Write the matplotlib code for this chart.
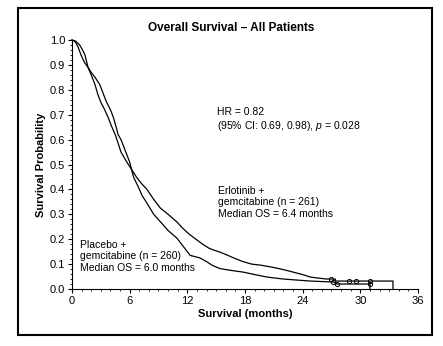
import matplotlib.pyplot as plt
from matplotlib.patches import Rectangle
from matplotlib.ticker import MultipleLocator

plt.rcParams['font.family'] = 'Liberation Sans'
plt.rcParams['mathtext.fontset'] = 'custom'
plt.rcParams['mathtext.rm'] = 'Liberation Sans'
plt.rcParams['mathtext.it'] = 'Liberation Sans:italic'

# Kaplan-Meier curves (months, survival probability)
erlo_t = [0, 0.4, 0.8, 1.1, 1.35, 1.67, 2.0, 2.4, 2.7, 3.0, 3.4, 3.75, 4.1, 4.5, 4.8,
          5.1, 5.4, 5.7, 6.2, 6.7, 7.2, 7.8, 8.5, 9.2, 10.0, 10.9, 11.5, 12.2, 13.0,
          13.6, 14.2, 14.7, 15.4, 16.1, 17.0, 17.8, 18.7, 19.6, 20.5, 21.3, 22.2,
          23.0, 24.0, 24.8, 25.6, 26.5, 27.4, 27.4, 33.4, 33.4]
erlo_s = [1.0, 0.995, 0.98, 0.96, 0.94, 0.89, 0.86, 0.82, 0.78, 0.75, 0.72, 0.69, 0.655,
          0.62, 0.585, 0.55, 0.53, 0.51, 0.48, 0.45, 0.425, 0.40, 0.36, 0.325, 0.30,
          0.27, 0.245, 0.22, 0.197, 0.18, 0.165, 0.157, 0.148, 0.137, 0.122, 0.11,
          0.10, 0.096, 0.09, 0.084, 0.076, 0.068, 0.058, 0.048, 0.044, 0.04, 0.04,
          0.032, 0.032, 0.0]

plac_t = [0, 0.3, 0.6, 0.94, 1.3, 1.67, 2.0, 2.4, 2.9, 3.2, 3.6, 4.0, 4.3, 4.6, 4.8,
          5.1, 5.6, 6.0, 6.4, 6.9, 7.3, 7.8, 8.5, 9.2, 10.0, 10.9, 11.6, 12.3, 13.3,
          14.0, 14.6, 15.4, 16.5, 17.8, 19.0, 20.3, 22.0, 24.8, 27.2, 27.6, 31.0, 31.0]
plac_s = [1.0, 0.995, 0.975, 0.94, 0.91, 0.89, 0.87, 0.85, 0.82, 0.79, 0.75, 0.72, 0.69,
          0.65, 0.62, 0.60, 0.55, 0.51, 0.45, 0.41, 0.375, 0.345, 0.30, 0.27, 0.235,
          0.205, 0.17, 0.135, 0.125, 0.11, 0.095, 0.082, 0.075, 0.068, 0.058, 0.048,
          0.04, 0.032, 0.028, 0.02, 0.02, 0.0]

erlo_cens_t = [27.0, 28.8, 29.5, 31.0]
erlo_cens_s = [0.04, 0.032, 0.032, 0.032]
plac_cens_t = [27.2, 27.6, 31.0]
plac_cens_s = [0.028, 0.02, 0.02]

fig = plt.figure(figsize=(4.43, 3.46), dpi=100)
ax = fig.add_axes([0.1625, 0.1647, 0.781, 0.7197])

ax.plot(erlo_t, erlo_s, color='black', lw=0.9, clip_on=False)
ax.plot(plac_t, plac_s, color='black', lw=0.9, clip_on=False)
ax.plot(erlo_cens_t, erlo_cens_s, 'o', mfc='none', mec='black', ms=3, mew=0.7)
ax.plot(plac_cens_t, plac_cens_s, 'o', mfc='none', mec='black', ms=3, mew=0.7)

ax.set_xlim(0, 36)
ax.set_ylim(0, 1.0)
ax.set_xticks(range(0, 37, 6))
ax.set_yticks([i / 10 for i in range(11)])
ax.set_yticklabels(['%.1f' % (i / 10) for i in range(11)])
ax.xaxis.set_minor_locator(MultipleLocator(1))
ax.yaxis.set_minor_locator(MultipleLocator(0.02))
ax.tick_params(which='major', length=3, width=0.8, labelsize=8, pad=2)
ax.tick_params(which='minor', length=1.5, width=0.6)
for s in ['top', 'right']:
    ax.spines[s].set_visible(False)
for s in ['left', 'bottom']:
    ax.spines[s].set_linewidth(0.8)

ax.set_xlabel('Survival (months)', fontsize=8, fontweight='bold', labelpad=2)
ax.set_ylabel('Survival Probability', fontsize=8, fontweight='bold', labelpad=3)
fig.text(0.521, 0.919, 'Overall Survival \u2013 All Patients', ha='center', va='center',
         fontsize=8.5, fontweight='bold')

ax.text(15.1, 0.73, 'HR = 0.82\n(95% CI: 0.69, 0.98), $p$ = 0.028', fontsize=7.5,
        va='top', ha='left', linespacing=1.2)
ax.text(15.2, 0.415, 'Erlotinib +\ngemcitabine (n = 261)\nMedian OS = 6.4 months',
        fontsize=7.5, va='top', ha='left', linespacing=1.2)
ax.text(0.85, 0.198, 'Placebo +\ngemcitabine (n = 260)\nMedian OS = 6.0 months',
        fontsize=7.5, va='top', ha='left', linespacing=1.2)

fig.patches.append(Rectangle((0.0406, 0.0318), 0.9345, 0.945, transform=fig.transFigure,
                             fill=False, edgecolor='black', lw=1.5))

fig.savefig('out.png', dpi=100)
